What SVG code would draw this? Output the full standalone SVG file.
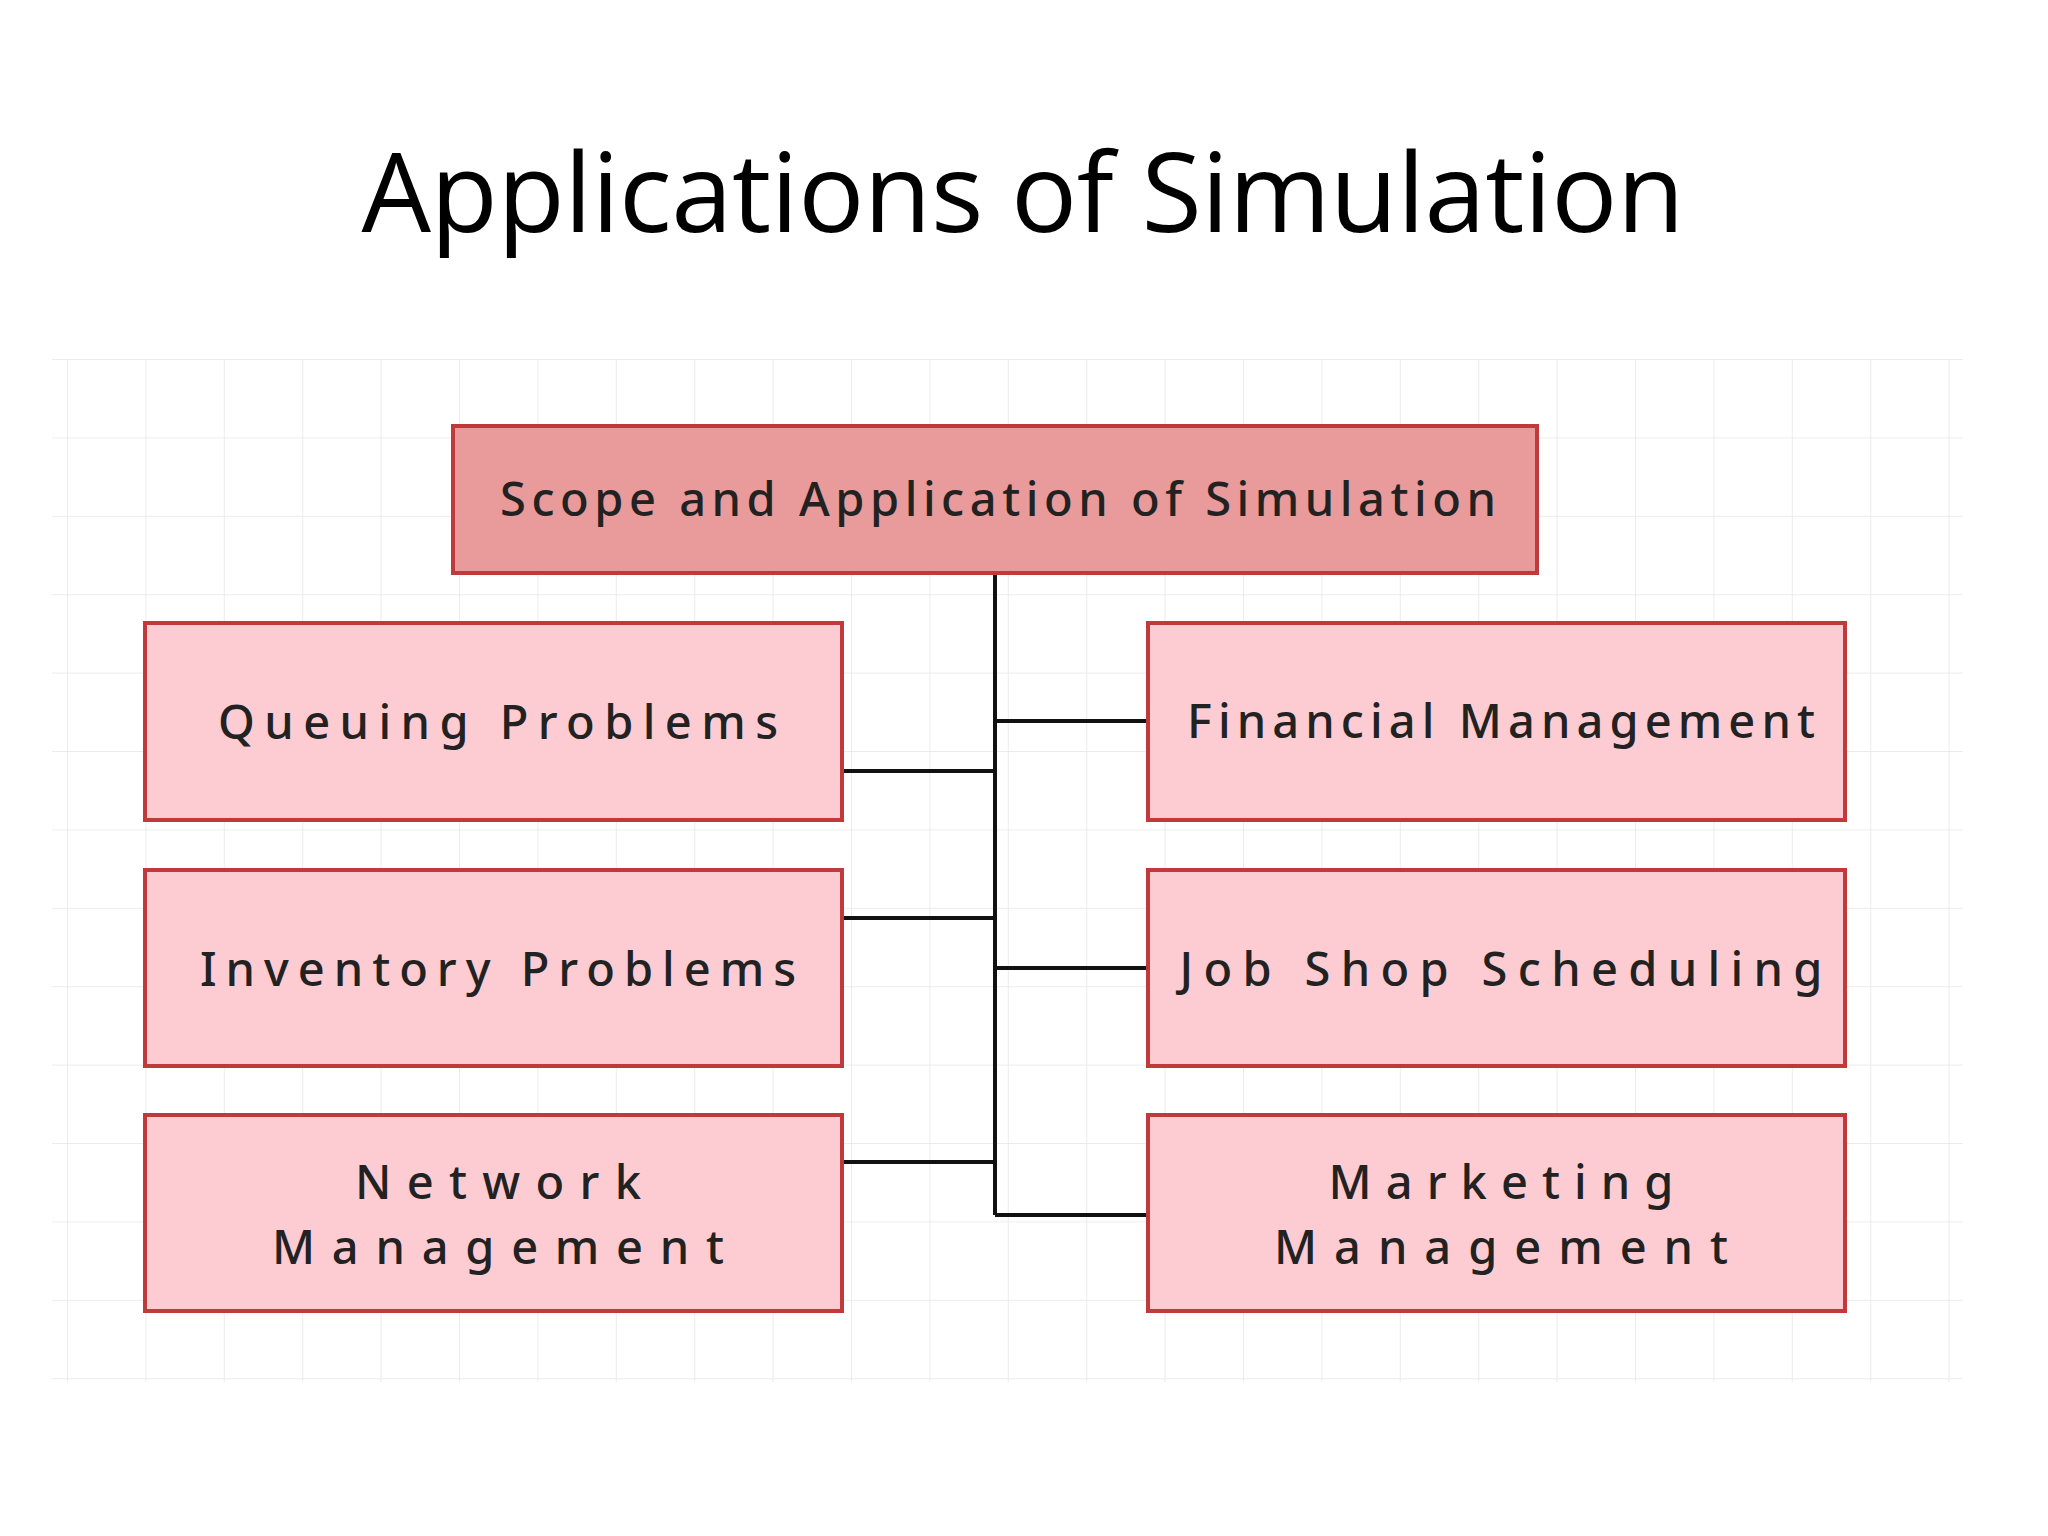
<svg xmlns="http://www.w3.org/2000/svg" width="2048" height="1536" viewBox="0 0 2048 1536">
<defs>
<pattern id="grid" x="67" y="359" width="78.4" height="78.4" patternUnits="userSpaceOnUse">
<path d="M0 0V78.4M0 0H78.4" fill="none" stroke="#e6e6e6" stroke-width="1.5"/>
</pattern>
</defs>
<style>
.box{fill:#fdccd3;stroke:#c0393b;stroke-width:4}
.top{fill:#e99a9a;stroke:#c0393b;stroke-width:4}
.t{font-family:"Noto Sans","Open Sans",sans-serif;font-weight:500;font-size:47px;fill:#222;text-anchor:middle;dominant-baseline:central}
.c{stroke:#111;stroke-width:4;fill:none}
</style>
<rect width="2048" height="1536" fill="#fff"/>
<text x="1023" y="232" font-family="Open Sans, sans-serif" font-size="110" text-anchor="middle" textLength="1323" fill="#000">Applications of Simulation</text>
<rect x="52" y="359" width="1911" height="1023" fill="url(#grid)"/>
<g id="connectors">
<path class="c" d="M995 573V1215"/>
<path class="c" d="M842 771H995M842 918H995M842 1162H995"/>
<path class="c" d="M995 721H1148M995 968H1148M995 1215H1148"/>
</g>
<g id="root"><rect class="top" x="453" y="426" width="1084" height="147"/><text class="t" x="998" y="498" font-size="43" textLength="996" lengthAdjust="spacing">Scope and Application of Simulation</text></g>
<g id="queuing"><rect class="box" x="145" y="623" width="697" height="197"/><text class="t" x="498" y="721" textLength="560" lengthAdjust="spacing">Queuing Problems</text></g>
<g id="inventory"><rect class="box" x="145" y="870" width="697" height="196"/><text class="t" x="498" y="968" textLength="596" lengthAdjust="spacing">Inventory Problems</text></g>
<g id="network"><rect class="box" x="145" y="1115" width="697" height="196"/><text class="t" x="498" y="1181" textLength="286" lengthAdjust="spacing">Network</text><text class="t" x="498" y="1246" textLength="452" lengthAdjust="spacing">Management</text></g>
<g id="financial"><rect class="box" x="1148" y="623" width="697" height="197"/><text class="t" x="1501" y="720" font-size="43" textLength="628" lengthAdjust="spacing">Financial Management</text></g>
<g id="jobshop"><rect class="box" x="1148" y="870" width="697" height="196"/><text class="t" x="1501" y="968" textLength="643" lengthAdjust="spacing">Job Shop Scheduling</text></g>
<g id="marketing"><rect class="box" x="1148" y="1115" width="697" height="196"/><text class="t" x="1501" y="1181" textLength="345" lengthAdjust="spacing">Marketing</text><text class="t" x="1501" y="1246" textLength="454" lengthAdjust="spacing">Management</text></g>
</svg>
